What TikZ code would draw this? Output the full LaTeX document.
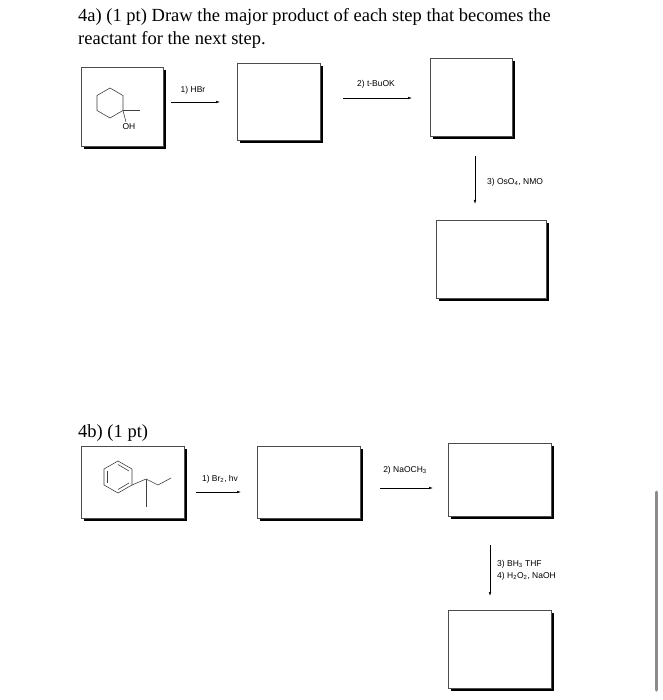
\documentclass[tikz,border=0pt]{standalone}
\usepackage{fontspec}
\setmainfont{Liberation Serif}
\newfontfamily\lab{Liberation Sans}
\usetikzlibrary{arrows.meta}
\newcommand{\shbox}[5]{%
  \fill[shadow] (#1+3,#2+3) rectangle (#3+3,#4+3);
  \draw[box] (#1,#2) rectangle (#3,#4);
  \coordinate (#5) at ({(#1+#3)/2},{(#2+#4)/2});}
\newcommand{\sbs}[1]{\textsubscript{#1}}
\begin{document}
\begin{tikzpicture}[x=1pt,y=-1pt,
  box/.style={draw=black!70,line width=0.6pt,fill=white},
  shadow/.style={fill=black},
  rx/.style={-{Latex[length=4pt,width=2.5pt]},line width=0.5pt},
  lbl/.style={font=\lab\fontsize{8.5}{10}\selectfont,inner sep=0pt},
  ttl/.style={font=\fontsize{18.5}{22}\selectfont,inner sep=0pt,anchor=base west},
  bond/.style={line width=0.6pt,black!75}]
\useasboundingbox (0,0) rectangle (662,700);
\node[ttl] (t1) at (78,22) {4a) (1 pt) Draw the major product of each step that becomes the};
\node[ttl] (t2) at (78,45) {reactant for the next step.};
\node[ttl] (t3) at (78,437) {4b) (1 pt)};
% part a boxes
\shbox{81}{67}{163}{146}{a1}
\shbox{237}{63}{320}{140}{a2}
\shbox{430}{58}{512}{136}{a3}
\shbox{436}{220}{546}{298}{a4}
% part b boxes
\shbox{81}{446}{184}{518}{b1}
\shbox{257}{446}{360}{518}{b2}
\shbox{448}{443}{551}{516}{b3}
\shbox{448}{610}{551}{688}{b4}
% arrows a
\coordinate (h1) at (171,102); \coordinate (h2) at (220,102);
\draw[rx] (h1) -- (h2);
\node[lbl] (lh) at (193,90) {1) HBr};
\coordinate (k1) at (343,98); \coordinate (k2) at (412,98);
\draw[rx] (k1) -- (k2);
\node[lbl] (lk) at (376,84) {2) t-BuOK};
\coordinate (o1) at (475,156); \coordinate (o2) at (475,204);
\draw[rx] (o1) -- (o2);
\node[lbl,anchor=west] (lo) at (487,182) {3) OsO\sbs{4}, NMO};
% arrows b
\coordinate (r1) at (196,492); \coordinate (r2) at (241,492);
\draw[rx] (r1) -- (r2);
\node[lbl] (lr) at (220,479) {1) Br\sbs{2}, hv};
\coordinate (n1) at (380,488); \coordinate (n2) at (433,488);
\draw[rx] (n1) -- (n2);
\node[lbl] (ln) at (405,470) {2) NaOCH\sbs{3}};
\coordinate (m1) at (490,545); \coordinate (m2) at (490,596);
\draw[rx] (m1) -- (m2);
\node[lbl,anchor=west] (lm1) at (497,564) {3) BH\sbs{3} THF};
\node[lbl,anchor=west] (lm2) at (497,576) {4) H\sbs{2}O\sbs{2}, NaOH};
% cyclohexanol
\draw[bond] (110,88) -- (123,95.5) -- (123,110.5) -- (110,118) -- (97,110.5) -- (97,95.5) -- cycle;
\draw[bond] (123,110.5) -- (140,110.5);
\draw[bond] (123,110.5) -- (126,122);
\node[lbl] (oh) at (129,127) {OH};
% sec-butylbenzene
\draw[bond] (118,461) -- (132,469) -- (132,485) -- (118,493) -- (104,485) -- (104,469) -- cycle;
\draw[bond] (118,464.5) -- (129,471);
\draw[bond] (129,483) -- (118,489.5);
\draw[bond] (107,483) -- (107,471);
\draw[bond] (132,485) -- (146,479) -- (158,485) -- (171,478);
\draw[bond] (146,479) -- (146,507);
% scrollbar
\draw[line width=3pt,black!45,line cap=round] (656,492) -- (656,690);
\end{tikzpicture}
\end{document}
